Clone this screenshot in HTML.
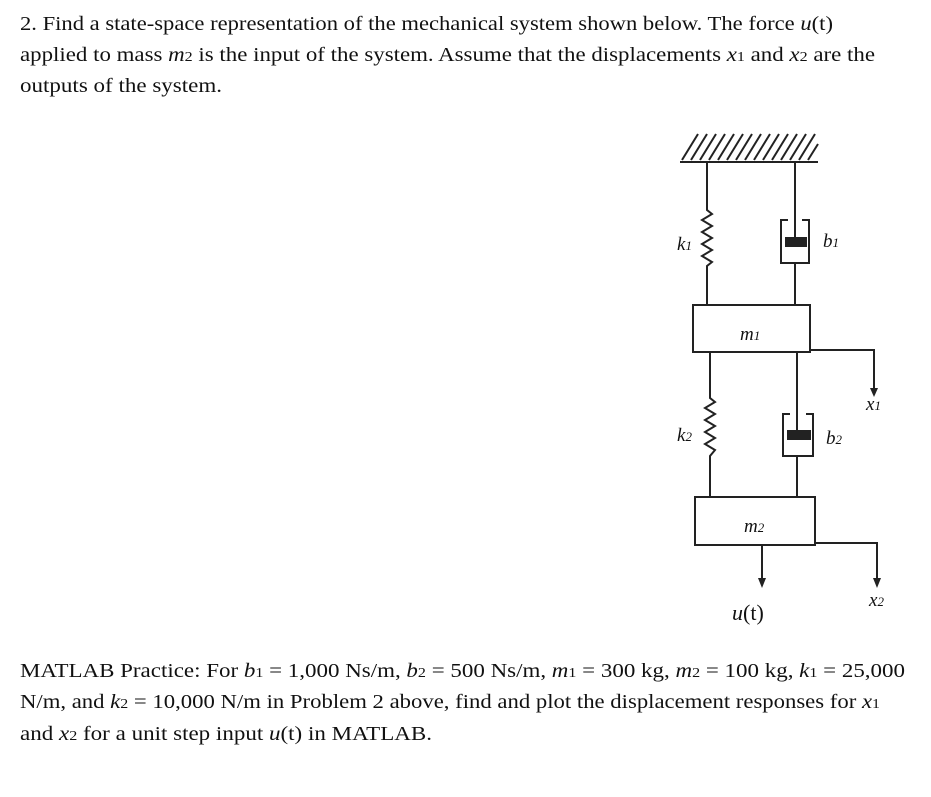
<!DOCTYPE html>
<html><head><meta charset="utf-8"><style>
html,body{margin:0;padding:0;background:#fff;}
svg{display:block;}
text{font-family:"Liberation Serif",serif;fill:#111;}
.l{font-style:italic;}
</style></head><body>
<svg width="931" height="797" viewBox="0 0 931 797" xmlns="http://www.w3.org/2000/svg">
<g font-size="20">
<text x="20" y="30" textLength="813" lengthAdjust="spacingAndGlyphs">2. Find a state-space representation of the mechanical system shown below. The force <tspan class="l">u</tspan>(t)</text>
<text x="20" y="61" textLength="855" lengthAdjust="spacingAndGlyphs">applied to mass <tspan class="l">m</tspan><tspan font-size="14">2</tspan> is the input of the system. Assume that the displacements <tspan class="l">x</tspan><tspan font-size="14">1</tspan> and <tspan class="l">x</tspan><tspan font-size="14">2</tspan> are the</text>
<text x="20" y="92" textLength="202" lengthAdjust="spacingAndGlyphs">outputs of the system.</text>
<text x="20" y="677" textLength="885" lengthAdjust="spacingAndGlyphs">MATLAB Practice: For <tspan class="l">b</tspan><tspan font-size="14">1</tspan> = 1,000 Ns/m, <tspan class="l">b</tspan><tspan font-size="14">2</tspan> = 500 Ns/m, <tspan class="l">m</tspan><tspan font-size="14">1</tspan> = 300 kg, <tspan class="l">m</tspan><tspan font-size="14">2</tspan> = 100 kg, <tspan class="l">k</tspan><tspan font-size="14">1</tspan> = 25,000</text>
<text x="20" y="708" textLength="860" lengthAdjust="spacingAndGlyphs">N/m, and <tspan class="l">k</tspan><tspan font-size="14">2</tspan> = 10,000 N/m in Problem 2 above, find and plot the displacement responses for <tspan class="l">x</tspan><tspan font-size="14">1</tspan></text>
<text x="20" y="740" textLength="412" lengthAdjust="spacingAndGlyphs">and <tspan class="l">x</tspan><tspan font-size="14">2</tspan> for a unit step input <tspan class="l">u</tspan>(t) in MATLAB.</text>
</g>
<g stroke="#222" stroke-width="2" fill="none">
<line x1="680" y1="162" x2="818" y2="162"/>
<g stroke-width="2">
<line x1="682" y1="160" x2="698" y2="134"/><line x1="691" y1="160" x2="707" y2="134"/><line x1="700" y1="160" x2="716" y2="134"/><line x1="709" y1="160" x2="725" y2="134"/><line x1="718" y1="160" x2="734" y2="134"/><line x1="727" y1="160" x2="743" y2="134"/><line x1="736" y1="160" x2="752" y2="134"/><line x1="745" y1="160" x2="761" y2="134"/><line x1="754" y1="160" x2="770" y2="134"/><line x1="763" y1="160" x2="779" y2="134"/><line x1="772" y1="160" x2="788" y2="134"/><line x1="781" y1="160" x2="797" y2="134"/><line x1="790" y1="160" x2="806" y2="134"/><line x1="799" y1="160" x2="815" y2="134"/><line x1="808" y1="160" x2="818" y2="144"/>
</g>
<polyline points="707,162 707,210 712,214 702,220 712,226 702,232 712,238 702,244 712,250 702,256 712,262 707,266 707,305"/>
<line x1="795" y1="162" x2="795" y2="240"/>
<polyline points="788,220 781,220 781,263 809,263 809,220 802,220"/>
<line x1="795" y1="263" x2="795" y2="305"/>
<rect x="693" y="305" width="117" height="47"/>
<polyline points="810,350 874,350 874,390"/>
<polyline points="710,352 710,398 715,402 705,408 715,414 705,420 715,426 705,432 715,438 705,444 715,450 710,456 710,497"/>
<line x1="797" y1="352" x2="797" y2="435"/>
<polyline points="790,414 783,414 783,456 813,456 813,414 806,414"/>
<line x1="797" y1="456" x2="797" y2="497"/>
<rect x="695" y="497" width="120" height="48"/>
<line x1="762" y1="545" x2="762" y2="580"/>
<polyline points="815,543 877,543 877,580"/>
</g>
<rect x="785" y="237" width="22" height="10" fill="#222"/>
<rect x="787" y="430" width="24" height="10" fill="#222"/>
<g fill="#222">
<polygon points="870,388 878,388 874,397"/>
<polygon points="758,578 766,578 762,588"/>
<polygon points="873,578 881,578 877,588"/>
</g>
<g class="l" font-size="19">
<text x="677" y="250" class="l">k<tspan font-size="13">1</tspan></text>
<text x="823" y="247" class="l">b<tspan font-size="13">1</tspan></text>
<text x="740" y="340" class="l">m<tspan font-size="13">1</tspan></text>
<text x="866" y="410" class="l">x<tspan font-size="13">1</tspan></text>
<text x="677" y="441" class="l">k<tspan font-size="13">2</tspan></text>
<text x="826" y="444" class="l">b<tspan font-size="13">2</tspan></text>
<text x="744" y="532" class="l">m<tspan font-size="13">2</tspan></text>
<text x="869" y="606" class="l">x<tspan font-size="13">2</tspan></text>
</g>
<text x="732" y="620" font-size="22"><tspan class="l">u</tspan>(t)</text>
</svg>
</body></html>
